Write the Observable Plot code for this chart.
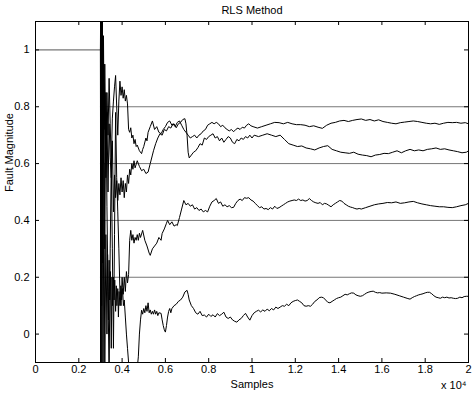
<!DOCTYPE html>
<html><head><meta charset="utf-8">
<script src="https://cdn.jsdelivr.net/npm/d3@7"></script>
<script src="https://cdn.jsdelivr.net/npm/@observablehq/plot@0.6"></script>
<style>body{margin:0;background:#fff}</style></head>
<body><div id="chart"></div>
<script>
const title = "RLS Method";
const xLabel = "Samples";
const yLabel = "Fault Magnitude";
const xMultiplier = "x 10⁴";
const xTicks = [0,2000,4000,6000,8000,10000,12000,14000,16000,18000,20000];
const yTicks = [0,0.2,0.4,0.6,0.8,1];
const faultStart = 3000, sampleEnd = 20000;
const trueBefore = [1];
const trueAfter = [0.8,0.6,0.4,0.2];

const curveP = [[3000,1],[3010,1.25],[3025,0.45],[3045,1.2],[3065,0.6],[3090,1.15],[3110,0.7],[3140,1.05],[3170,0.72],[3200,0.95],[3250,0.65],[3300,0.85],[3350,0.7],[3400,0.9],[3450,0.74],[3500,0.6],[3550,0.76],[3600,0.82],[3650,0.87],[3700,0.91],[3750,0.8],[3800,0.7],[3850,0.82],[3900,0.89],[3950,0.84],[4000,0.87],[4050,0.83],[4100,0.86],[4150,0.82],[4200,0.84],[4250,0.81],[4300,0.72],[4350,0.71],[4400,0.726],[4450,0.69],[4500,0.70],[4550,0.67],[4600,0.685],[4650,0.66],[4700,0.665],[4800,0.645],[4900,0.635],[4950,0.65],[5000,0.66],[5100,0.69],[5150,0.68],[5200,0.71],[5300,0.73],[5400,0.75],[5500,0.72],[5600,0.73],[5700,0.71],[5800,0.705],[5900,0.72],[6000,0.73],[6100,0.745],[6200,0.75],[6300,0.735],[6400,0.74],[6500,0.726],[6600,0.74],[6700,0.745],[6800,0.755],[6900,0.758],[6950,0.74],[7000,0.70],[7050,0.64],[7100,0.62],[7200,0.63],[7300,0.64],[7400,0.645],[7500,0.656],[7600,0.67],[7700,0.665],[7800,0.69],[7900,0.685],[8000,0.695],[8100,0.7],[8200,0.705],[8300,0.69],[8400,0.695],[8500,0.68],[8600,0.69],[8700,0.675],[8800,0.685],[8900,0.695],[9000,0.69],[9100,0.675],[9200,0.67],[9300,0.685],[9400,0.68],[9500,0.69],[9600,0.685],[9700,0.695],[9800,0.69],[9900,0.70],[10000,0.69],[10100,0.70],[10300,0.695],[10500,0.70],[10700,0.705],[10900,0.70],[11100,0.695],[11300,0.70],[11500,0.685],[11700,0.67],[11900,0.665],[12100,0.66],[12300,0.662],[12500,0.655],[12700,0.652],[12900,0.648],[13100,0.655],[13300,0.66],[13500,0.663],[13700,0.65],[13900,0.645],[14100,0.64],[14300,0.638],[14500,0.636],[14700,0.64],[14900,0.633],[15100,0.63],[15300,0.628],[15500,0.624],[15700,0.63],[15900,0.632],[16100,0.636],[16300,0.635],[16500,0.64],[16700,0.645],[16900,0.638],[17100,0.645],[17300,0.65],[17500,0.645],[17700,0.648],[17900,0.645],[18100,0.65],[18300,0.652],[18500,0.655],[18700,0.65],[18900,0.652],[19100,0.648],[19300,0.645],[19500,0.642],[19700,0.638],[19900,0.64],[20000,0.645]];

const curveQ = [[3000,1],[3010,1.2],[3035,0.3],[3060,1.15],[3085,0.5],[3110,1.0],[3150,0.6],[3200,0.85],[3250,0.55],[3300,0.78],[3350,0.5],[3400,0.74],[3450,0.62],[3500,0.55],[3550,0.68],[3600,0.43],[3650,0.56],[3700,0.48],[3750,0.54],[3800,0.47],[3850,0.53],[3900,0.49],[3950,0.55],[4000,0.5],[4050,0.54],[4100,0.48],[4150,0.53],[4200,0.5],[4250,0.56],[4300,0.53],[4350,0.58],[4400,0.56],[4450,0.6],[4500,0.58],[4550,0.61],[4600,0.585],[4700,0.61],[4800,0.59],[4900,0.575],[5000,0.58],[5100,0.565],[5200,0.57],[5300,0.6],[5400,0.63],[5450,0.645],[5550,0.67],[5650,0.69],[5750,0.705],[5850,0.7],[5950,0.72],[6050,0.715],[6150,0.73],[6250,0.725],[6350,0.74],[6450,0.73],[6550,0.745],[6650,0.75],[6750,0.735],[6850,0.72],[6950,0.71],[7050,0.7],[7150,0.69],[7250,0.695],[7350,0.7],[7450,0.69],[7550,0.70],[7650,0.705],[7750,0.715],[7850,0.72],[7950,0.735],[8050,0.74],[8150,0.745],[8250,0.74],[8350,0.745],[8450,0.74],[8550,0.73],[8650,0.735],[8750,0.726],[8850,0.72],[8950,0.715],[9050,0.72],[9150,0.712],[9250,0.72],[9350,0.725],[9450,0.72],[9550,0.728],[9650,0.725],[9750,0.735],[9850,0.74],[9950,0.733],[10050,0.73],[10250,0.725],[10450,0.73],[10650,0.735],[10850,0.74],[11050,0.745],[11250,0.744],[11450,0.74],[11650,0.745],[11850,0.74],[12050,0.737],[12250,0.737],[12450,0.735],[12650,0.73],[12850,0.733],[13050,0.728],[13250,0.724],[13450,0.735],[13650,0.742],[13850,0.745],[14050,0.75],[14250,0.752],[14450,0.748],[14650,0.752],[14850,0.755],[15050,0.757],[15250,0.752],[15450,0.755],[15650,0.75],[15850,0.754],[16050,0.748],[16250,0.745],[16450,0.742],[16650,0.74],[16850,0.744],[17050,0.746],[17250,0.748],[17450,0.75],[17650,0.748],[17850,0.745],[18050,0.742],[18250,0.74],[18450,0.742],[18650,0.738],[18850,0.742],[19050,0.745],[19250,0.744],[19450,0.745],[19650,0.742],[19850,0.744],[20000,0.74]];

const curveR = [[3000,1],[3010,-0.2],[3030,1.2],[3055,0.1],[3080,1.1],[3110,0.25],[3150,0.95],[3200,0.3],[3250,0.85],[3300,0.45],[3350,0.15],[3400,-0.15],[3450,0.3],[3500,0.6],[3550,0.3],[3600,-0.05],[3650,0.35],[3700,0.78],[3750,0.55],[3800,0.43],[3850,0.3],[3900,0.15],[3950,0.1],[4000,0.2],[4050,0.14],[4100,0.2],[4150,0.15],[4200,0.22],[4250,0.18],[4300,0.21],[4350,0.33],[4400,0.365],[4450,0.33],[4500,0.35],[4550,0.32],[4600,0.34],[4650,0.33],[4700,0.35],[4750,0.33],[4800,0.355],[4850,0.34],[4950,0.365],[5050,0.33],[5150,0.31],[5250,0.285],[5300,0.277],[5400,0.3],[5500,0.31],[5600,0.32],[5700,0.34],[5800,0.33],[5850,0.354],[5950,0.37],[6050,0.39],[6100,0.40],[6200,0.385],[6300,0.395],[6400,0.38],[6500,0.385],[6550,0.382],[6650,0.41],[6750,0.44],[6850,0.47],[6950,0.455],[7050,0.46],[7150,0.45],[7250,0.455],[7350,0.44],[7450,0.445],[7550,0.435],[7650,0.44],[7750,0.43],[7850,0.435],[7950,0.43],[8050,0.45],[8150,0.465],[8250,0.47],[8350,0.477],[8450,0.46],[8550,0.465],[8650,0.45],[8750,0.455],[8850,0.448],[8950,0.452],[9050,0.445],[9150,0.446],[9250,0.46],[9350,0.47],[9450,0.475],[9550,0.47],[9650,0.48],[9750,0.478],[9850,0.48],[9950,0.472],[10050,0.468],[10150,0.46],[10250,0.452],[10350,0.445],[10450,0.448],[10550,0.44],[10650,0.442],[10750,0.438],[10850,0.445],[10950,0.44],[11050,0.45],[11150,0.442],[11250,0.445],[11350,0.45],[11450,0.455],[11550,0.46],[11650,0.465],[11750,0.468],[11850,0.47],[11950,0.472],[12050,0.47],[12150,0.475],[12250,0.47],[12350,0.472],[12450,0.468],[12550,0.47],[12650,0.477],[12750,0.47],[12850,0.465],[12950,0.462],[13050,0.46],[13150,0.463],[13250,0.455],[13350,0.46],[13450,0.458],[13550,0.453],[13650,0.448],[13750,0.455],[13850,0.46],[13950,0.465],[14050,0.47],[14150,0.468],[14250,0.46],[14350,0.455],[14450,0.45],[14550,0.447],[14650,0.445],[14750,0.442],[14850,0.44],[14950,0.442],[15050,0.44],[15250,0.445],[15450,0.45],[15650,0.455],[15850,0.458],[16050,0.46],[16250,0.463],[16450,0.462],[16650,0.465],[16850,0.46],[17050,0.462],[17250,0.465],[17450,0.467],[17650,0.462],[17850,0.458],[18050,0.455],[18250,0.452],[18450,0.45],[18650,0.448],[18850,0.448],[19050,0.446],[19250,0.445],[19450,0.448],[19650,0.452],[19850,0.455],[20000,0.46]];

const curveS = [[3000,1],[3015,-0.3],[3040,1.2],[3065,-0.2],[3090,0.9],[3120,-0.2],[3160,0.6],[3200,-0.15],[3250,0.35],[3300,0.0],[3330,0.28],[3370,0.05],[3400,0.26],[3430,0.12],[3460,0.22],[3500,-0.05],[3530,0.2],[3560,0.1],[3600,0.2],[3630,0.12],[3660,0.19],[3700,0.08],[3730,0.17],[3760,0.1],[3800,0.16],[3830,0.06],[3860,0.15],[3900,0.1],[3940,0.17],[3980,0.12],[4020,0.16],[4060,0.1],[4100,0.12],[4150,0.06],[4200,0.0],[4250,-0.05],[4300,-0.1],[4350,-0.14],[4450,-0.12],[4550,-0.15],[4650,-0.1],[4700,-0.12],[4750,-0.08],[4800,0.0],[4850,0.05],[4900,0.084],[4950,0.07],[5000,0.09],[5050,0.075],[5100,0.1],[5150,0.08],[5200,0.11],[5250,0.075],[5300,0.085],[5350,0.07],[5400,0.08],[5450,0.07],[5500,0.085],[5550,0.07],[5600,0.08],[5650,0.065],[5700,0.075],[5800,0.073],[5850,0.05],[5900,0.03],[5950,0.015],[6000,0.007],[6050,0.03],[6100,0.06],[6150,0.08],[6200,0.09],[6250,0.075],[6300,0.09],[6400,0.1],[6500,0.105],[6600,0.115],[6700,0.12],[6800,0.13],[6900,0.148],[7000,0.154],[7050,0.14],[7100,0.12],[7200,0.1],[7300,0.09],[7400,0.075],[7500,0.07],[7600,0.08],[7700,0.065],[7800,0.067],[7900,0.06],[8000,0.07],[8100,0.062],[8200,0.068],[8300,0.06],[8400,0.072],[8500,0.065],[8600,0.07],[8700,0.077],[8800,0.06],[8900,0.055],[9000,0.06],[9100,0.05],[9200,0.045],[9300,0.042],[9400,0.05],[9500,0.055],[9600,0.065],[9700,0.073],[9800,0.06],[9900,0.049],[10000,0.065],[10100,0.075],[10200,0.08],[10300,0.084],[10400,0.078],[10500,0.085],[10600,0.08],[10700,0.088],[10800,0.082],[10900,0.09],[11000,0.085],[11100,0.095],[11200,0.09],[11300,0.095],[11400,0.1],[11500,0.098],[11600,0.105],[11700,0.1],[11800,0.11],[11900,0.115],[12000,0.118],[12100,0.12],[12200,0.115],[12300,0.11],[12400,0.1],[12500,0.098],[12600,0.1],[12700,0.098],[12800,0.105],[12900,0.115],[13000,0.12],[13100,0.128],[13200,0.13],[13300,0.128],[13400,0.12],[13500,0.112],[13600,0.11],[13700,0.115],[13800,0.12],[13900,0.125],[14000,0.128],[14100,0.13],[14200,0.135],[14300,0.14],[14400,0.138],[14500,0.142],[14600,0.145],[14700,0.144],[14800,0.138],[14900,0.135],[15000,0.133],[15100,0.135],[15200,0.14],[15300,0.145],[15400,0.148],[15500,0.15],[15600,0.151],[15700,0.147],[15800,0.145],[15900,0.146],[16000,0.144],[16200,0.145],[16400,0.144],[16600,0.14],[16800,0.135],[17000,0.13],[17200,0.125],[17300,0.123],[17400,0.128],[17500,0.132],[17600,0.135],[17700,0.138],[17800,0.14],[17900,0.142],[18000,0.145],[18100,0.147],[18200,0.147],[18300,0.142],[18400,0.135],[18500,0.13],[18600,0.128],[18700,0.126],[18800,0.13],[18900,0.128],[19000,0.13],[19100,0.127],[19200,0.128],[19300,0.126],[19400,0.125],[19500,0.126],[19600,0.13],[19700,0.128],[19800,0.132],[19900,0.133],[20000,0.133]];

const curves = {P: curveP, Q: curveQ, R: curveR, S: curveS};
const curveData = Object.entries(curves).flatMap(([k, pts]) => pts.map(([x, y]) => ({series: k, x, y})));

const W = 474, H = 395, mt = 21, mb = 33, ml = 35, mr = 6;
const fh = H - mt - mb, fw = W - ml - mr;

const chart = Plot.plot({
  width: W, height: H,
  marginTop: mt, marginBottom: mb, marginLeft: ml, marginRight: mr,
  x: {domain: [0, sampleEnd]},
  y: {domain: [-0.1, 1.1]},
  style: {fontFamily: "'Liberation Sans', Arial, sans-serif", fontSize: "11px", color: "#000", background: "#fff"},
  marks: [
    Plot.ruleY(trueAfter, {y: d => d, x1: faultStart, x2: sampleEnd, stroke: "#777", strokeWidth: 1}),
    Plot.ruleY(trueBefore, {y: d => d, x1: 0, x2: faultStart, stroke: "#555", strokeWidth: 1}),
    Plot.line(curveData, {x: "x", y: "y", z: "series", stroke: "#000", strokeWidth: 1, clip: true}),
    Plot.frame({stroke: "#000"}),
    Plot.tickX(xTicks, {x: d => d, insetTop: fh - 4, stroke: "#000"}),
    Plot.tickX(xTicks, {x: d => d, insetBottom: fh - 4, stroke: "#000"}),
    Plot.tickY(yTicks, {y: d => d, insetRight: fw - 4, stroke: "#000"}),
    Plot.tickY(yTicks, {y: d => d, insetLeft: fw - 4, stroke: "#000"}),
    Plot.axisX({ticks: xTicks, tickSize: 0, tickPadding: 3, tickFormat: d => String(d / 1e4), label: null}),
    Plot.axisY({ticks: yTicks, tickSize: 0, tickPadding: 6, tickFormat: d => String(d), label: null}),
    Plot.text([title], {frameAnchor: "top", dy: -15, fontSize: 11}),
    Plot.text([yLabel], {frameAnchor: "left", dx: -26, rotate: -90, fontSize: 11}),
    Plot.text([xLabel], {frameAnchor: "bottom", dy: 25, fontSize: 11}),
    Plot.text([xMultiplier], {frameAnchor: "bottom-right", textAnchor: "end", dy: 26, dx: -2, fontSize: 11})
  ]
});
document.getElementById("chart").appendChild(chart);
</script></body></html>
